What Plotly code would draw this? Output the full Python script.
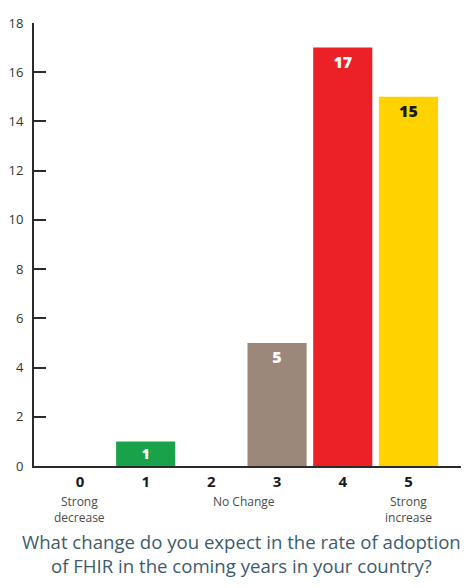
import plotly.graph_objects as go

# survey answers: 0 = strong decrease ... 5 = strong increase
categories = [0, 1, 2, 3, 4, 5]
counts = [0, 1, 0, 5, 17, 15]
bar_colors = ["#ffffff", "#19a24a", "#ffffff", "#9c887a", "#ec2027", "#ffd200"]
label_colors = ["#ffffff", "#ffffff", "#ffffff", "#ffffff", "#ffffff", "#1a1a1a"]
tick_labels = ["0", "1", "2", "3", "4", "5"]
y_ticks = [0, 2, 4, 6, 8, 10, 12, 14, 16, 18]

sub_labels = {0: "Strong<br>decrease", 2.5: "No Change", 5: "Strong<br>increase"}

question = ("What change do you expect in the rate of adoption<br>"
            "of FHIR in the coming years in your country?")

fig = go.Figure()

fig.add_trace(go.Bar(
    x=categories,
    y=counts,
    marker=dict(color=bar_colors, line=dict(width=0)),
    text=[str(c) if c > 0 else "" for c in counts],
    textposition="inside",
    insidetextanchor="end",
    textangle=0,
    textfont=dict(family="Open Sans", size=16, color=label_colors, weight=800),
    width=0.9,
))

for xpos, txt in sub_labels.items():
    fig.add_annotation(
        x=xpos, y=0, xref="x", yref="paper",
        yanchor="top", yshift=-25,
        text=txt, showarrow=False,
        font=dict(family="Open Sans", size=12, color="#4a4a4a"),
        align="center",
    )

fig.add_annotation(
    x=0.487, y=0, xref="paper", yref="paper",
    xanchor="center", yanchor="top", yshift=-61,
    text=question, showarrow=False,
    font=dict(family="Open Sans", size=18.6, color="#3d5b6e"),
    align="center",
)

# page body has an 8px margin, so the figure is a bit smaller than the window
fig.update_layout(
    width=466,
    height=580,
    margin=dict(l=26, r=13, t=15, b=122),
    plot_bgcolor="white",
    paper_bgcolor="white",
    showlegend=False,
)

fig.update_xaxes(
    range=[-0.7, 5.8],
    tickmode="array",
    tickvals=categories,
    ticktext=["<b>" + t + "</b>" for t in tick_labels],
    tickfont=dict(family="Open Sans", size=15, color="#1a1a1a"),
    ticks="",
    ticklabelstandoff=1,
    showline=True,
    linecolor="#2a2a2a",
    linewidth=2,
    showgrid=False,
    zeroline=False,
    automargin=False,
)

fig.update_yaxes(
    range=[0, 18],
    tickmode="array",
    tickvals=y_ticks,
    ticks="inside",
    ticklen=12,
    tickwidth=2,
    tickcolor="#2a2a2a",
    tickfont=dict(family="Open Sans", size=13, color="#333333"),
    showline=True,
    linecolor="#2a2a2a",
    linewidth=2,
    showgrid=False,
    zeroline=False,
    ticklabelstandoff=6,
    automargin=False,
)

fig.write_html("out.html")
